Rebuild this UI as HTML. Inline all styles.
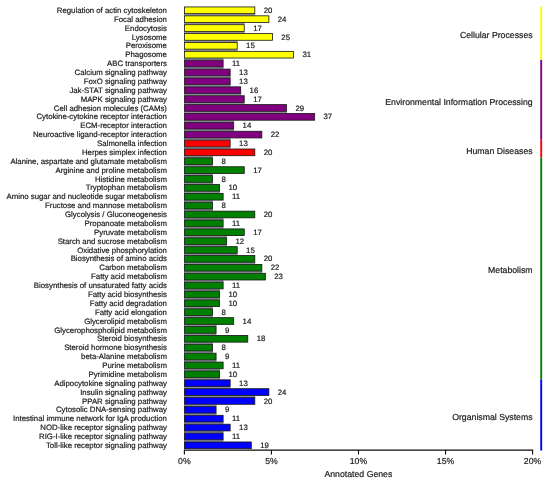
<!DOCTYPE html>
<html lang="en"><head><meta charset="utf-8"><title>KEGG pathway annotation</title>
<style>html,body{margin:0;padding:0;background:#fff}svg{display:block}text{font-family:"Liberation Sans",Arial,Helvetica,sans-serif;fill:#1a1a1a;stroke:#1a1a1a;stroke-width:.19px;text-rendering:geometricPrecision}.l{font-size:7.8px;text-anchor:end}.v{font-size:7.8px}.c{font-size:8.72px;text-anchor:end}.t{font-size:8.72px;text-anchor:middle}.b{stroke:#151515;stroke-width:0.8}</style></head><body>
<svg width="550" height="482" viewBox="0 0 550 482">
<rect width="550" height="482" fill="#fff"/>
<g fill="#8e8e9a">
<rect x="184.00" y="13.75" width="71.20" height="1.98"/>
<rect x="184.00" y="22.63" width="60.64" height="1.98"/>
<rect x="184.00" y="31.51" width="60.64" height="1.98"/>
<rect x="184.00" y="40.38" width="53.60" height="1.98"/>
<rect x="184.00" y="49.26" width="53.60" height="1.98"/>
<rect x="184.00" y="58.14" width="39.52" height="1.98"/>
<rect x="184.00" y="67.02" width="39.52" height="1.98"/>
<rect x="184.00" y="75.90" width="46.56" height="1.98"/>
<rect x="184.00" y="84.77" width="46.56" height="1.98"/>
<rect x="184.00" y="93.65" width="57.12" height="1.98"/>
<rect x="184.00" y="102.53" width="60.64" height="1.98"/>
<rect x="184.00" y="111.41" width="102.88" height="1.98"/>
<rect x="184.00" y="120.29" width="50.08" height="1.98"/>
<rect x="184.00" y="129.16" width="50.08" height="1.98"/>
<rect x="184.00" y="138.04" width="46.56" height="1.98"/>
<rect x="184.00" y="146.92" width="46.56" height="1.98"/>
<rect x="184.00" y="155.80" width="28.96" height="1.98"/>
<rect x="184.00" y="164.68" width="28.96" height="1.98"/>
<rect x="184.00" y="173.55" width="28.96" height="1.98"/>
<rect x="184.00" y="182.43" width="28.96" height="1.98"/>
<rect x="184.00" y="191.31" width="36.00" height="1.98"/>
<rect x="184.00" y="200.19" width="28.96" height="1.98"/>
<rect x="184.00" y="209.07" width="28.96" height="1.98"/>
<rect x="184.00" y="217.94" width="39.52" height="1.98"/>
<rect x="184.00" y="226.82" width="39.52" height="1.98"/>
<rect x="184.00" y="235.70" width="43.04" height="1.98"/>
<rect x="184.00" y="244.58" width="43.04" height="1.98"/>
<rect x="184.00" y="253.46" width="53.60" height="1.98"/>
<rect x="184.00" y="262.33" width="71.20" height="1.98"/>
<rect x="184.00" y="271.21" width="78.24" height="1.98"/>
<rect x="184.00" y="280.09" width="39.52" height="1.98"/>
<rect x="184.00" y="288.97" width="36.00" height="1.98"/>
<rect x="184.00" y="297.85" width="36.00" height="1.98"/>
<rect x="184.00" y="306.72" width="28.96" height="1.98"/>
<rect x="184.00" y="315.60" width="28.96" height="1.98"/>
<rect x="184.00" y="324.48" width="32.48" height="1.98"/>
<rect x="184.00" y="333.36" width="32.48" height="1.98"/>
<rect x="184.00" y="342.24" width="28.96" height="1.98"/>
<rect x="184.00" y="351.11" width="28.96" height="1.98"/>
<rect x="184.00" y="359.99" width="32.48" height="1.98"/>
<rect x="184.00" y="368.87" width="36.00" height="1.98"/>
<rect x="184.00" y="377.75" width="36.00" height="1.98"/>
<rect x="184.00" y="386.63" width="46.56" height="1.98"/>
<rect x="184.00" y="395.50" width="71.20" height="1.98"/>
<rect x="184.00" y="404.38" width="32.48" height="1.98"/>
<rect x="184.00" y="413.26" width="32.48" height="1.98"/>
<rect x="184.00" y="422.14" width="39.52" height="1.98"/>
<rect x="184.00" y="431.02" width="39.52" height="1.98"/>
<rect x="184.00" y="439.89" width="39.52" height="1.98"/>
</g>
<g fill="#ffff00">
<rect class="b" x="184.40" y="6.95" width="70.40" height="6.70"/>
<rect class="b" x="184.40" y="15.83" width="84.48" height="6.70"/>
<rect class="b" x="184.40" y="24.71" width="59.84" height="6.70"/>
<rect class="b" x="184.40" y="33.58" width="88.00" height="6.70"/>
<rect class="b" x="184.40" y="42.46" width="52.80" height="6.70"/>
<rect class="b" x="184.40" y="51.34" width="109.12" height="6.70"/>
</g>
<line x1="541.2" x2="541.2" y1="6.60" y2="59.87" stroke="#ffff00" stroke-width="1.9"/>
<text class="c" x="532.6" y="37.93">Cellular Processes</text>
<g fill="#800080">
<rect class="b" x="184.40" y="60.22" width="38.72" height="6.70"/>
<rect class="b" x="184.40" y="69.10" width="45.76" height="6.70"/>
<rect class="b" x="184.40" y="77.97" width="45.76" height="6.70"/>
<rect class="b" x="184.40" y="86.85" width="56.32" height="6.70"/>
<rect class="b" x="184.40" y="95.73" width="59.84" height="6.70"/>
<rect class="b" x="184.40" y="104.61" width="102.08" height="6.70"/>
<rect class="b" x="184.40" y="113.49" width="130.24" height="6.70"/>
<rect class="b" x="184.40" y="122.36" width="49.28" height="6.70"/>
<rect class="b" x="184.40" y="131.24" width="77.44" height="6.70"/>
</g>
<line x1="541.2" x2="541.2" y1="59.87" y2="139.77" stroke="#800080" stroke-width="1.9"/>
<text class="c" x="532.6" y="105.02">Environmental Information Processing</text>
<g fill="#ff0000">
<rect class="b" x="184.40" y="140.12" width="45.76" height="6.70"/>
<rect class="b" x="184.40" y="149.00" width="70.40" height="6.70"/>
</g>
<line x1="541.2" x2="541.2" y1="139.77" y2="157.53" stroke="#ff0000" stroke-width="1.9"/>
<text class="c" x="532.6" y="153.85">Human Diseases</text>
<g fill="#008000">
<rect class="b" x="184.40" y="157.88" width="28.16" height="6.70"/>
<rect class="b" x="184.40" y="166.75" width="59.84" height="6.70"/>
<rect class="b" x="184.40" y="175.63" width="28.16" height="6.70"/>
<rect class="b" x="184.40" y="184.51" width="35.20" height="6.70"/>
<rect class="b" x="184.40" y="193.39" width="38.72" height="6.70"/>
<rect class="b" x="184.40" y="202.27" width="28.16" height="6.70"/>
<rect class="b" x="184.40" y="211.14" width="70.40" height="6.70"/>
<rect class="b" x="184.40" y="220.02" width="38.72" height="6.70"/>
<rect class="b" x="184.40" y="228.90" width="59.84" height="6.70"/>
<rect class="b" x="184.40" y="237.78" width="42.24" height="6.70"/>
<rect class="b" x="184.40" y="246.66" width="52.80" height="6.70"/>
<rect class="b" x="184.40" y="255.53" width="70.40" height="6.70"/>
<rect class="b" x="184.40" y="264.41" width="77.44" height="6.70"/>
<rect class="b" x="184.40" y="273.29" width="80.96" height="6.70"/>
<rect class="b" x="184.40" y="282.17" width="38.72" height="6.70"/>
<rect class="b" x="184.40" y="291.05" width="35.20" height="6.70"/>
<rect class="b" x="184.40" y="299.92" width="35.20" height="6.70"/>
<rect class="b" x="184.40" y="308.80" width="28.16" height="6.70"/>
<rect class="b" x="184.40" y="317.68" width="49.28" height="6.70"/>
<rect class="b" x="184.40" y="326.56" width="31.68" height="6.70"/>
<rect class="b" x="184.40" y="335.44" width="63.36" height="6.70"/>
<rect class="b" x="184.40" y="344.31" width="28.16" height="6.70"/>
<rect class="b" x="184.40" y="353.19" width="31.68" height="6.70"/>
<rect class="b" x="184.40" y="362.07" width="38.72" height="6.70"/>
<rect class="b" x="184.40" y="370.95" width="35.20" height="6.70"/>
</g>
<line x1="541.2" x2="541.2" y1="157.53" y2="379.48" stroke="#008000" stroke-width="1.9"/>
<text class="c" x="532.6" y="273.40">Metabolism</text>
<g fill="#0000ff">
<rect class="b" x="184.40" y="379.83" width="45.76" height="6.70"/>
<rect class="b" x="184.40" y="388.70" width="84.48" height="6.70"/>
<rect class="b" x="184.40" y="397.58" width="70.40" height="6.70"/>
<rect class="b" x="184.40" y="406.46" width="31.68" height="6.70"/>
<rect class="b" x="184.40" y="415.34" width="38.72" height="6.70"/>
<rect class="b" x="184.40" y="424.22" width="45.76" height="6.70"/>
<rect class="b" x="184.40" y="433.09" width="38.72" height="6.70"/>
<rect class="b" x="184.40" y="441.97" width="66.88" height="6.70"/>
</g>
<line x1="541.2" x2="541.2" y1="379.48" y2="450.50" stroke="#0000ff" stroke-width="1.9"/>
<text class="c" x="532.6" y="419.59">Organismal Systems</text>
<text class="l" x="166.9" y="12.90">Regulation of actin cytoskeleton</text>
<text class="v" x="263.70" y="12.90">20</text>
<text class="l" x="166.9" y="21.78">Focal adhesion</text>
<text class="v" x="277.78" y="21.78">24</text>
<text class="l" x="166.9" y="30.66">Endocytosis</text>
<text class="v" x="253.14" y="30.66">17</text>
<text class="l" x="166.9" y="39.53">Lysosome</text>
<text class="v" x="281.30" y="39.53">25</text>
<text class="l" x="166.9" y="48.41">Peroxisome</text>
<text class="v" x="246.10" y="48.41">15</text>
<text class="l" x="166.9" y="57.29">Phagosome</text>
<text class="v" x="302.42" y="57.29">31</text>
<text class="l" x="166.9" y="66.17">ABC transporters</text>
<text class="v" x="232.02" y="66.17">11</text>
<text class="l" x="166.9" y="75.05">Calcium signaling pathway</text>
<text class="v" x="239.06" y="75.05">13</text>
<text class="l" x="166.9" y="83.92">FoxO signaling pathway</text>
<text class="v" x="239.06" y="83.92">13</text>
<text class="l" x="166.9" y="92.80">Jak-STAT signaling pathway</text>
<text class="v" x="249.62" y="92.80">16</text>
<text class="l" x="166.9" y="101.68">MAPK signaling pathway</text>
<text class="v" x="253.14" y="101.68">17</text>
<text class="l" x="166.9" y="110.56">Cell adhesion molecules (CAMs)</text>
<text class="v" x="295.38" y="110.56">29</text>
<text class="l" x="166.9" y="119.44">Cytokine-cytokine receptor interaction</text>
<text class="v" x="323.54" y="119.44">37</text>
<text class="l" x="166.9" y="128.31">ECM-receptor interaction</text>
<text class="v" x="242.58" y="128.31">14</text>
<text class="l" x="166.9" y="137.19">Neuroactive ligand-receptor interaction</text>
<text class="v" x="270.74" y="137.19">22</text>
<text class="l" x="166.9" y="146.07">Salmonella infection</text>
<text class="v" x="239.06" y="146.07">13</text>
<text class="l" x="166.9" y="154.95">Herpes simplex infection</text>
<text class="v" x="263.70" y="154.95">20</text>
<text class="l" x="166.9" y="163.83">Alanine, aspartate and glutamate metabolism</text>
<text class="v" x="221.46" y="163.83">8</text>
<text class="l" x="166.9" y="172.70">Arginine and proline metabolism</text>
<text class="v" x="253.14" y="172.70">17</text>
<text class="l" x="166.9" y="181.58">Histidine metabolism</text>
<text class="v" x="221.46" y="181.58">8</text>
<text class="l" x="166.9" y="190.46">Tryptophan metabolism</text>
<text class="v" x="228.50" y="190.46">10</text>
<text class="l" x="166.9" y="199.34">Amino sugar and nucleotide sugar metabolism</text>
<text class="v" x="232.02" y="199.34">11</text>
<text class="l" x="166.9" y="208.22">Fructose and mannose metabolism</text>
<text class="v" x="221.46" y="208.22">8</text>
<text class="l" x="166.9" y="217.09">Glycolysis / Gluconeogenesis</text>
<text class="v" x="263.70" y="217.09">20</text>
<text class="l" x="166.9" y="225.97">Propanoate metabolism</text>
<text class="v" x="232.02" y="225.97">11</text>
<text class="l" x="166.9" y="234.85">Pyruvate metabolism</text>
<text class="v" x="253.14" y="234.85">17</text>
<text class="l" x="166.9" y="243.73">Starch and sucrose metabolism</text>
<text class="v" x="235.54" y="243.73">12</text>
<text class="l" x="166.9" y="252.61">Oxidative phosphorylation</text>
<text class="v" x="246.10" y="252.61">15</text>
<text class="l" x="166.9" y="261.48">Biosynthesis of amino acids</text>
<text class="v" x="263.70" y="261.48">20</text>
<text class="l" x="166.9" y="270.36">Carbon metabolism</text>
<text class="v" x="270.74" y="270.36">22</text>
<text class="l" x="166.9" y="279.24">Fatty acid metabolism</text>
<text class="v" x="274.26" y="279.24">23</text>
<text class="l" x="166.9" y="288.12">Biosynthesis of unsaturated fatty acids</text>
<text class="v" x="232.02" y="288.12">11</text>
<text class="l" x="166.9" y="297.00">Fatty acid biosynthesis</text>
<text class="v" x="228.50" y="297.00">10</text>
<text class="l" x="166.9" y="305.87">Fatty acid degradation</text>
<text class="v" x="228.50" y="305.87">10</text>
<text class="l" x="166.9" y="314.75">Fatty acid elongation</text>
<text class="v" x="221.46" y="314.75">8</text>
<text class="l" x="166.9" y="323.63">Glycerolipid metabolism</text>
<text class="v" x="242.58" y="323.63">14</text>
<text class="l" x="166.9" y="332.51">Glycerophospholipid metabolism</text>
<text class="v" x="224.98" y="332.51">9</text>
<text class="l" x="166.9" y="341.39">Steroid biosynthesis</text>
<text class="v" x="256.66" y="341.39">18</text>
<text class="l" x="166.9" y="350.26">Steroid hormone biosynthesis</text>
<text class="v" x="221.46" y="350.26">8</text>
<text class="l" x="166.9" y="359.14">beta-Alanine metabolism</text>
<text class="v" x="224.98" y="359.14">9</text>
<text class="l" x="166.9" y="368.02">Purine metabolism</text>
<text class="v" x="232.02" y="368.02">11</text>
<text class="l" x="166.9" y="376.90">Pyrimidine metabolism</text>
<text class="v" x="228.50" y="376.90">10</text>
<text class="l" x="166.9" y="385.78">Adipocytokine signaling pathway</text>
<text class="v" x="239.06" y="385.78">13</text>
<text class="l" x="166.9" y="394.65">Insulin signaling pathway</text>
<text class="v" x="277.78" y="394.65">24</text>
<text class="l" x="166.9" y="403.53">PPAR signaling pathway</text>
<text class="v" x="263.70" y="403.53">20</text>
<text class="l" x="166.9" y="412.41">Cytosolic DNA-sensing pathway</text>
<text class="v" x="224.98" y="412.41">9</text>
<text class="l" x="166.9" y="421.29">Intestinal immune network for IgA production</text>
<text class="v" x="232.02" y="421.29">11</text>
<text class="l" x="166.9" y="430.17">NOD-like receptor signaling pathway</text>
<text class="v" x="239.06" y="430.17">13</text>
<text class="l" x="166.9" y="439.04">RIG-I-like receptor signaling pathway</text>
<text class="v" x="232.02" y="439.04">11</text>
<text class="l" x="166.9" y="447.92">Toll-like receptor signaling pathway</text>
<text class="v" x="260.18" y="447.92">19</text>
<g stroke="#0a0a0a" stroke-width="1.45" fill="none">
<line x1="183.9" x2="533.1" y1="450.10" y2="450.10"/>
<line x1="184.40" x2="184.40" y1="450.10" y2="454.50" stroke-width="1.1"/>
<line x1="271.45" x2="271.45" y1="450.10" y2="454.50" stroke-width="1.1"/>
<line x1="358.50" x2="358.50" y1="450.10" y2="454.50" stroke-width="1.1"/>
<line x1="445.55" x2="445.55" y1="450.10" y2="454.50" stroke-width="1.1"/>
<line x1="532.60" x2="532.60" y1="450.10" y2="454.50" stroke-width="1.1"/>
</g>
<text class="t" x="184.40" y="463.6">0%</text>
<text class="t" x="271.45" y="463.6">5%</text>
<text class="t" x="358.50" y="463.6">10%</text>
<text class="t" x="445.55" y="463.6">15%</text>
<text class="t" x="532.60" y="463.6">20%</text>
<text class="t" x="358.4" y="477">Annotated Genes</text>
</svg></body></html>
